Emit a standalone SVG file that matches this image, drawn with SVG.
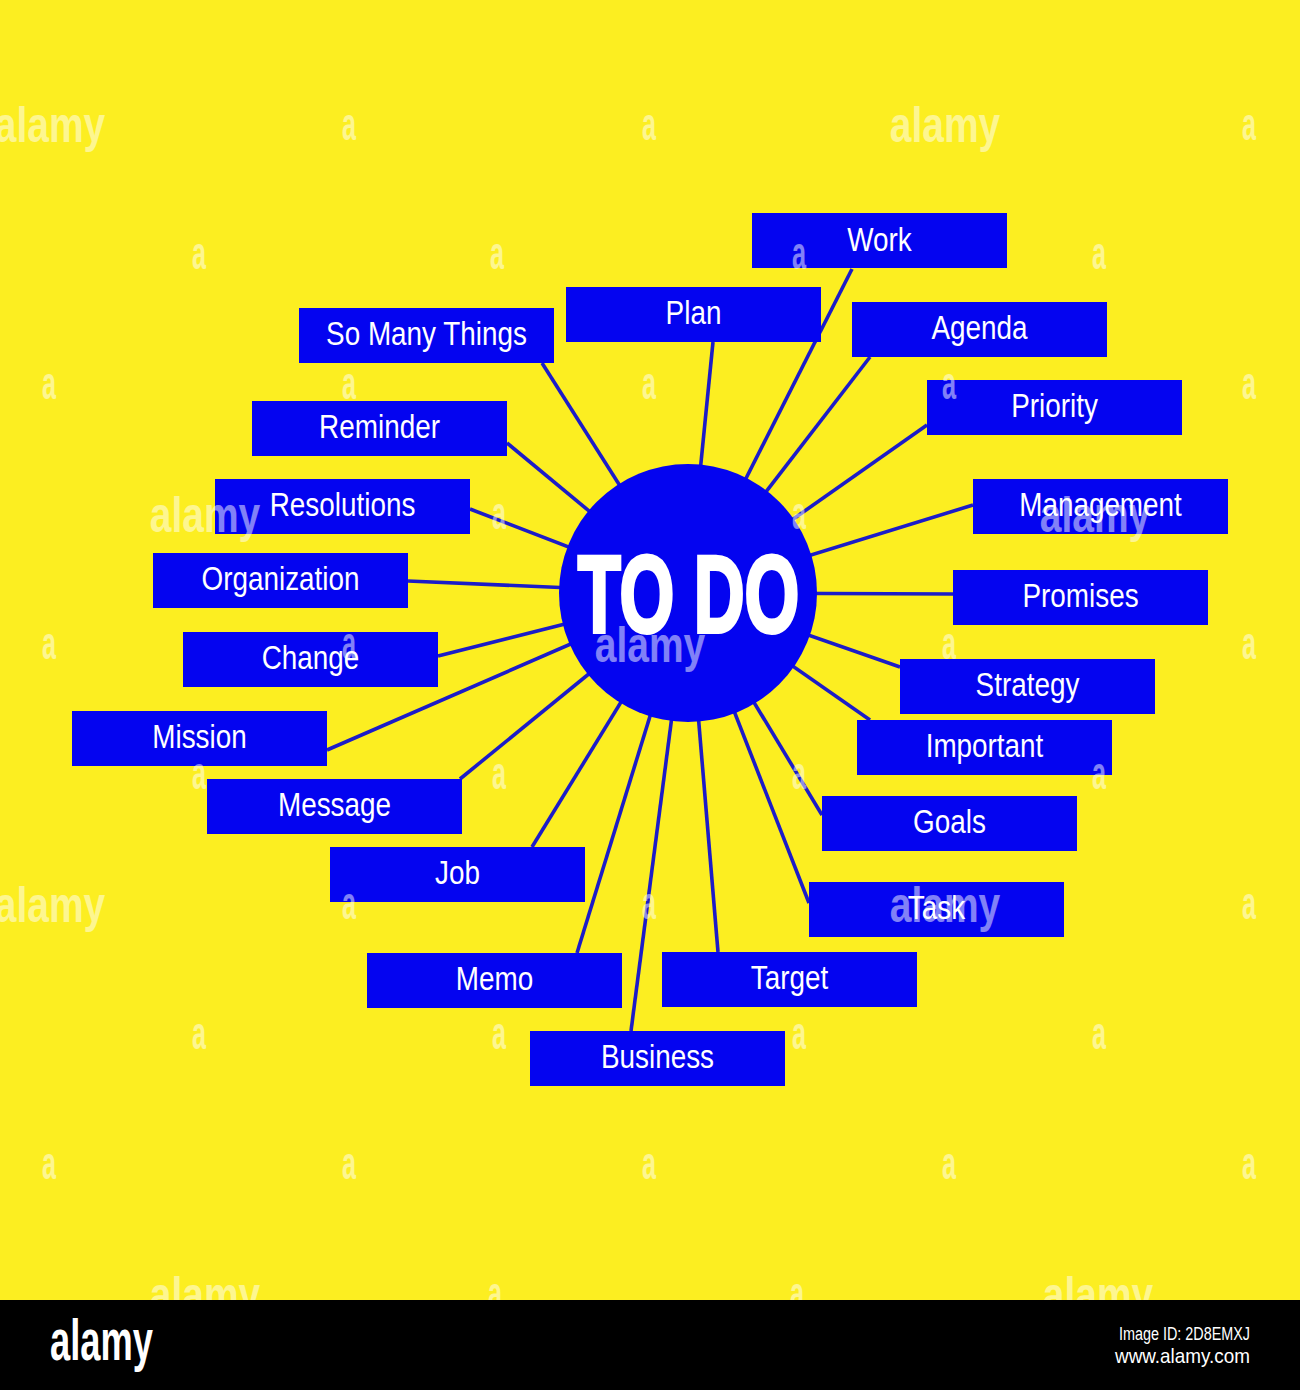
<svg xmlns="http://www.w3.org/2000/svg" width="1300" height="1390" viewBox="0 0 1300 1390">
<style>
.bg{fill:#fcee21}
.box{fill:#0404f0}
.lbl{font-family:"Liberation Sans",Arial,sans-serif;font-size:34px;fill:#ffffff;text-anchor:middle}
.hub{fill:#0404f0}
.hubt{font-family:"Liberation Sans",Arial,sans-serif;font-size:110px;font-weight:bold;fill:#ffffff;stroke:#ffffff;stroke-width:4;stroke-linejoin:miter;text-anchor:middle}
.con line{stroke:#1c1cc8;stroke-width:3.6;stroke-linecap:butt}
.wa{font-family:"Liberation Sans",Arial,sans-serif;font-weight:bold;font-size:46px;fill:#ffffff;fill-opacity:0.5;text-anchor:middle}
.wb{font-family:"Liberation Sans",Arial,sans-serif;font-weight:bold;font-size:50px;fill:#ffffff;fill-opacity:0.5;text-anchor:middle}
.foot{font-family:"Liberation Sans",Arial,sans-serif;fill:#ffffff}
</style>
<rect class="bg" x="0" y="0" width="1300" height="1390"/>
<g id="connectors" class="con">
<line x1="852" y1="269" x2="688" y2="593"/>
<line x1="713" y1="342" x2="688" y2="593"/>
<line x1="542" y1="363" x2="688" y2="593"/>
<line x1="870" y1="357" x2="688" y2="593"/>
<line x1="927" y1="425" x2="688" y2="593"/>
<line x1="507" y1="443" x2="688" y2="593"/>
<line x1="470" y1="509" x2="688" y2="593"/>
<line x1="973" y1="505" x2="688" y2="593"/>
<line x1="408" y1="581" x2="688" y2="593"/>
<line x1="953" y1="594" x2="688" y2="593"/>
<line x1="438" y1="656" x2="688" y2="593"/>
<line x1="900" y1="667" x2="688" y2="593"/>
<line x1="327" y1="750" x2="688" y2="593"/>
<line x1="870" y1="720" x2="688" y2="593"/>
<line x1="460" y1="779" x2="688" y2="593"/>
<line x1="822" y1="815" x2="688" y2="593"/>
<line x1="532" y1="847" x2="688" y2="593"/>
<line x1="809" y1="903" x2="688" y2="593"/>
<line x1="577" y1="953" x2="688" y2="593"/>
<line x1="718" y1="952" x2="688" y2="593"/>
<line x1="631" y1="1031" x2="688" y2="593"/>
</g>
<g id="node-todo">
<circle class="hub" cx="688" cy="593" r="129"/>
<text class="hubt" transform="translate(688.5,632) scale(0.64,1)" x="0" y="0">TO DO</text>
</g>
<g id="node-work"><rect class="box" x="752" y="213" width="255" height="55"/><text class="lbl" transform="translate(879.5,251) scale(0.82,1)">Work</text></g>
<g id="node-plan"><rect class="box" x="566" y="287" width="255" height="55"/><text class="lbl" transform="translate(693.5,324) scale(0.82,1)">Plan</text></g>
<g id="node-so-many-things"><rect class="box" x="299" y="308" width="255" height="55"/><text class="lbl" transform="translate(426.5,345) scale(0.82,1)">So Many Things</text></g>
<g id="node-agenda"><rect class="box" x="852" y="302" width="255" height="55"/><text class="lbl" transform="translate(979.5,339) scale(0.82,1)">Agenda</text></g>
<g id="node-priority"><rect class="box" x="927" y="380" width="255" height="55"/><text class="lbl" transform="translate(1054.5,417) scale(0.82,1)">Priority</text></g>
<g id="node-reminder"><rect class="box" x="252" y="401" width="255" height="55"/><text class="lbl" transform="translate(379.5,438) scale(0.82,1)">Reminder</text></g>
<g id="node-resolutions"><rect class="box" x="215" y="479" width="255" height="55"/><text class="lbl" transform="translate(342.5,516) scale(0.82,1)">Resolutions</text></g>
<g id="node-management"><rect class="box" x="973" y="479" width="255" height="55"/><text class="lbl" transform="translate(1100.5,516) scale(0.82,1)">Management</text></g>
<g id="node-organization"><rect class="box" x="153" y="553" width="255" height="55"/><text class="lbl" transform="translate(280.5,590) scale(0.82,1)">Organization</text></g>
<g id="node-promises"><rect class="box" x="953" y="570" width="255" height="55"/><text class="lbl" transform="translate(1080.5,607) scale(0.82,1)">Promises</text></g>
<g id="node-change"><rect class="box" x="183" y="632" width="255" height="55"/><text class="lbl" transform="translate(310.5,669) scale(0.82,1)">Change</text></g>
<g id="node-strategy"><rect class="box" x="900" y="659" width="255" height="55"/><text class="lbl" transform="translate(1027.5,696) scale(0.82,1)">Strategy</text></g>
<g id="node-mission"><rect class="box" x="72" y="711" width="255" height="55"/><text class="lbl" transform="translate(199.5,748) scale(0.82,1)">Mission</text></g>
<g id="node-important"><rect class="box" x="857" y="720" width="255" height="55"/><text class="lbl" transform="translate(984.5,757) scale(0.82,1)">Important</text></g>
<g id="node-message"><rect class="box" x="207" y="779" width="255" height="55"/><text class="lbl" transform="translate(334.5,816) scale(0.82,1)">Message</text></g>
<g id="node-goals"><rect class="box" x="822" y="796" width="255" height="55"/><text class="lbl" transform="translate(949.5,833) scale(0.82,1)">Goals</text></g>
<g id="node-job"><rect class="box" x="330" y="847" width="255" height="55"/><text class="lbl" transform="translate(457.5,884) scale(0.82,1)">Job</text></g>
<g id="node-task"><rect class="box" x="809" y="882" width="255" height="55"/><text class="lbl" transform="translate(936.5,919) scale(0.82,1)">Task</text></g>
<g id="node-memo"><rect class="box" x="367" y="953" width="255" height="55"/><text class="lbl" transform="translate(494.5,990) scale(0.82,1)">Memo</text></g>
<g id="node-target"><rect class="box" x="662" y="952" width="255" height="55"/><text class="lbl" transform="translate(789.5,989) scale(0.82,1)">Target</text></g>
<g id="node-business"><rect class="box" x="530" y="1031" width="255" height="55"/><text class="lbl" transform="translate(657.5,1068) scale(0.82,1)">Business</text></g>
<g id="watermarks">
<text class="wb" transform="translate(50,142) scale(0.78,1)">alamy</text>
<text class="wa" transform="translate(349,140) scale(0.55,1)">a</text>
<text class="wa" transform="translate(649,140) scale(0.55,1)">a</text>
<text class="wb" transform="translate(945,142) scale(0.78,1)">alamy</text>
<text class="wa" transform="translate(1249,140) scale(0.55,1)">a</text>
<text class="wa" transform="translate(199,269) scale(0.55,1)">a</text>
<text class="wa" transform="translate(497,269) scale(0.55,1)">a</text>
<text class="wa" transform="translate(799,269) scale(0.55,1)">a</text>
<text class="wa" transform="translate(1099,269) scale(0.55,1)">a</text>
<text class="wa" transform="translate(49,399) scale(0.55,1)">a</text>
<text class="wa" transform="translate(349,399) scale(0.55,1)">a</text>
<text class="wa" transform="translate(649,399) scale(0.55,1)">a</text>
<text class="wa" transform="translate(949,399) scale(0.55,1)">a</text>
<text class="wa" transform="translate(1249,399) scale(0.55,1)">a</text>
<text class="wb" transform="translate(205,532) scale(0.78,1)">alamy</text>
<text class="wa" transform="translate(499,529) scale(0.55,1)">a</text>
<text class="wa" transform="translate(799,529) scale(0.55,1)">a</text>
<text class="wb" transform="translate(1095,532) scale(0.78,1)">alamy</text>
<text class="wa" transform="translate(49,659) scale(0.55,1)">a</text>
<text class="wa" transform="translate(349,659) scale(0.55,1)">a</text>
<text class="wb" transform="translate(650,662) scale(0.78,1)">alamy</text>
<text class="wa" transform="translate(949,659) scale(0.55,1)">a</text>
<text class="wa" transform="translate(1249,659) scale(0.55,1)">a</text>
<text class="wa" transform="translate(199,789) scale(0.55,1)">a</text>
<text class="wa" transform="translate(499,789) scale(0.55,1)">a</text>
<text class="wa" transform="translate(799,789) scale(0.55,1)">a</text>
<text class="wa" transform="translate(1099,789) scale(0.55,1)">a</text>
<text class="wb" transform="translate(50,922) scale(0.78,1)">alamy</text>
<text class="wa" transform="translate(349,919) scale(0.55,1)">a</text>
<text class="wa" transform="translate(649,919) scale(0.55,1)">a</text>
<text class="wb" transform="translate(945,922) scale(0.78,1)">alamy</text>
<text class="wa" transform="translate(1249,919) scale(0.55,1)">a</text>
<text class="wa" transform="translate(199,1049) scale(0.55,1)">a</text>
<text class="wa" transform="translate(499,1049) scale(0.55,1)">a</text>
<text class="wa" transform="translate(799,1049) scale(0.55,1)">a</text>
<text class="wa" transform="translate(1099,1049) scale(0.55,1)">a</text>
<text class="wa" transform="translate(49,1179) scale(0.55,1)">a</text>
<text class="wa" transform="translate(349,1179) scale(0.55,1)">a</text>
<text class="wa" transform="translate(649,1179) scale(0.55,1)">a</text>
<text class="wa" transform="translate(949,1179) scale(0.55,1)">a</text>
<text class="wa" transform="translate(1249,1179) scale(0.55,1)">a</text>
<text class="wb" transform="translate(205,1312) scale(0.78,1)">alamy</text>
<text class="wa" transform="translate(495,1309) scale(0.55,1)">a</text>
<text class="wa" transform="translate(797,1309) scale(0.55,1)">a</text>
<text class="wb" transform="translate(1098,1312) scale(0.78,1)">alamy</text>
</g>
<g id="footer">
<rect x="0" y="1300" width="1300" height="90" fill="#000000"/>
<text class="foot" x="50" y="1360" font-size="58" font-weight="bold" textLength="103" lengthAdjust="spacingAndGlyphs">alamy</text>
<text class="foot" x="1119" y="1340" font-size="18" fill="#dddddd" textLength="131" lengthAdjust="spacingAndGlyphs">Image ID: 2D8EMXJ</text>
<text class="foot" x="1115" y="1363" font-size="21" textLength="135" lengthAdjust="spacingAndGlyphs">www.alamy.com</text>
</g>
</svg>
